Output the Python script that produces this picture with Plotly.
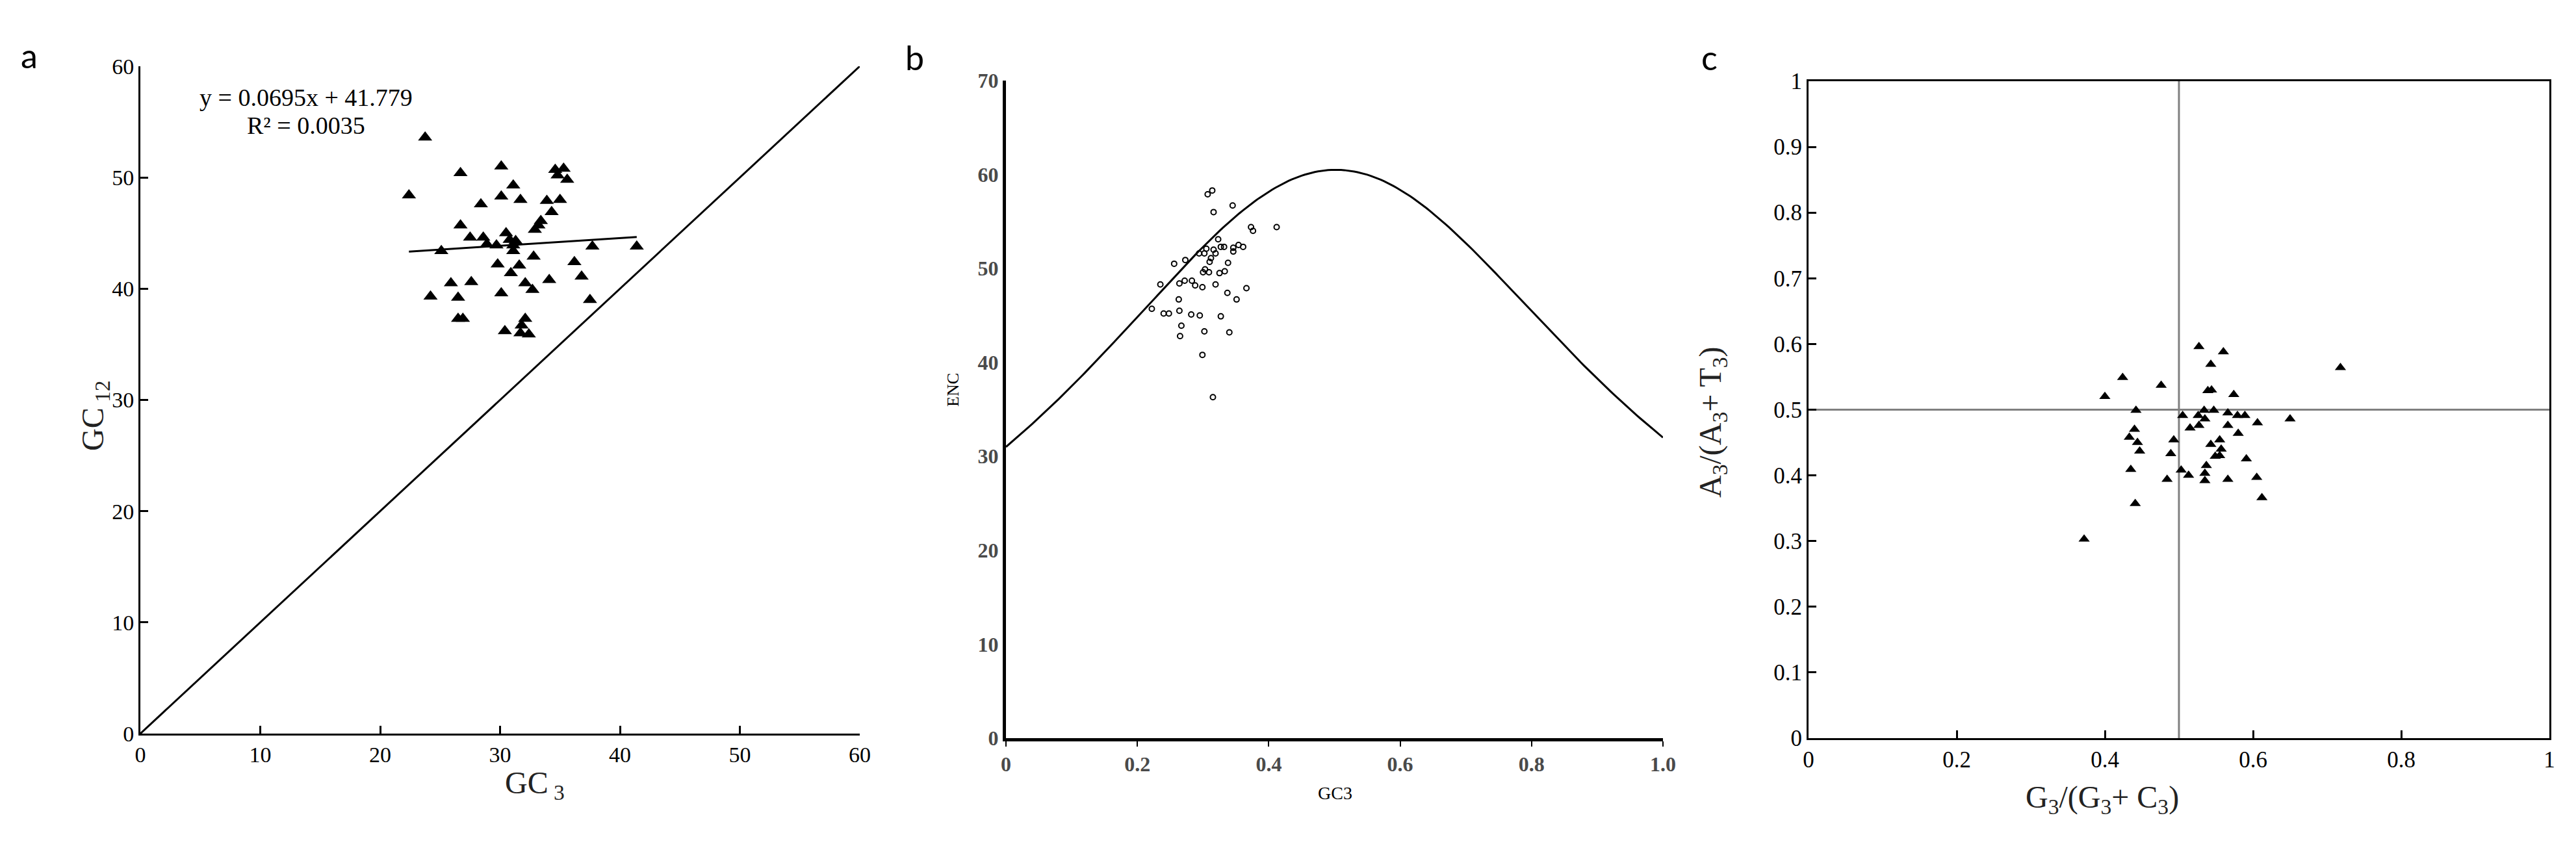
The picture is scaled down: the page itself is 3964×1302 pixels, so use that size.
import numpy as np
import plotly.graph_objects as go

# panel a: GC12 vs GC3 (neutrality plot)
gc3_a = [23.75, 22.4, 26.7, 30.1, 31.1, 30.1, 31.7, 28.4, 34.6, 35.3, 34.8, 35.6,
         33.9, 35.0, 34.3, 33.4, 33.2, 32.9, 26.7, 27.5, 28.6, 28.9, 29.7, 30.5,
         30.8, 31.1, 31.3, 31.1, 25.1, 32.8, 37.7, 41.4, 29.8, 31.6, 36.2, 30.9,
         25.9, 27.6, 32.1, 32.7, 34.1, 36.8, 24.2, 26.5, 30.1, 37.5, 26.5, 26.9,
         32.1, 31.8, 30.4, 31.7, 32.4]
gc12_a = [53.6, 48.4, 50.4, 51.0, 49.3, 48.3, 48.0, 47.6, 50.7, 50.8, 50.2, 49.8,
          47.9, 48.0, 46.9, 46.1, 45.7, 45.3, 45.7, 44.6, 44.6, 44.0, 43.9, 45.0,
          44.4, 43.9, 44.3, 43.4, 43.4, 42.9, 43.8, 43.8, 42.2, 42.1, 42.4, 41.4,
          40.5, 40.6, 40.5, 39.9, 40.8, 41.1, 39.3, 39.2, 39.6, 39.0, 37.3, 37.3,
          37.3, 36.7, 36.2, 36.0, 35.9]
slope_a, intercept_a = 0.0695, 41.779

# panel b: ENC vs GC3
gc3_b = [0.307, 0.314, 0.316, 0.345, 0.373, 0.376, 0.412, 0.323, 0.305, 0.316,
         0.327, 0.332, 0.346, 0.346, 0.354, 0.361, 0.294, 0.302, 0.319, 0.312,
         0.310, 0.338, 0.273, 0.256, 0.303, 0.300, 0.309, 0.325, 0.333, 0.235,
         0.264, 0.272, 0.283, 0.288, 0.299, 0.319, 0.366, 0.337, 0.351, 0.263,
         0.222, 0.240, 0.248, 0.264, 0.282, 0.295, 0.327, 0.267, 0.302, 0.340,
         0.265, 0.299, 0.315]
enc_b = [57.9, 58.3, 56.0, 56.7, 54.4, 54.0, 54.4, 53.1, 52.1, 52.0, 52.3, 52.3,
         52.2, 51.8, 52.5, 52.3, 51.6, 51.6, 51.6, 51.1, 50.7, 50.6, 50.9, 50.5,
         49.9, 49.6, 49.6, 49.5, 49.7, 48.3, 48.4, 48.7, 48.7, 48.2, 48.0, 48.3,
         47.9, 47.4, 46.7, 46.7, 45.7, 45.2, 45.2, 45.5, 45.1, 45.0, 44.9, 43.9,
         43.3, 43.2, 42.8, 40.8, 36.3]
ticks_b = [0, 0.2, 0.4, 0.6, 0.8, 1.0]
ticklabels_b = ["0", "0.2", "0.4", "0.6", "0.8", "1.0"]

# panel c: PR2 bias plot
g3_c = [0.372, 0.718, 0.527, 0.560, 0.543, 0.424, 0.476, 0.400, 0.539, 0.544,
        0.574, 0.442, 0.505, 0.526, 0.534, 0.535, 0.547, 0.566, 0.579, 0.589,
        0.606, 0.650, 0.515, 0.527, 0.566, 0.580, 0.440, 0.433, 0.444, 0.447,
        0.493, 0.543, 0.555, 0.557, 0.549, 0.489, 0.591, 0.537, 0.535, 0.503,
        0.513, 0.535, 0.484, 0.566, 0.605, 0.435, 0.441, 0.612, 0.555]
a3_c = [0.303, 0.564, 0.596, 0.588, 0.569, 0.549, 0.537, 0.520, 0.529, 0.530,
        0.523, 0.499, 0.491, 0.491, 0.499, 0.486, 0.499, 0.495, 0.491, 0.491,
        0.480, 0.486, 0.472, 0.476, 0.476, 0.464, 0.470, 0.458, 0.450, 0.437,
        0.454, 0.447, 0.454, 0.440, 0.429, 0.433, 0.425, 0.415, 0.403, 0.408,
        0.400, 0.392, 0.394, 0.394, 0.397, 0.409, 0.357, 0.366, 0.430]

W, H = 3964, 1302
OFF = 8  # page body margin shifts the figure by this much


def dom_x(p0, p1):
    return [(p0 - OFF) / W, (p1 - OFF) / W]


def dom_y(top, bottom):
    return [1 - (bottom - OFF) / H, 1 - (top - OFF) / H]


def label(text, px, py, size, family, angle=0, color="black"):
    return dict(text=text, x=(px - OFF) / W, y=1 - (py - OFF) / H,
                xref="paper", yref="paper", showarrow=False, textangle=angle,
                font=dict(family=family, size=size, color=color))


serif = "Liberation Serif"

fig = go.Figure()

# ---- a ----
fig.add_trace(go.Scatter(x=[0, 60], y=[0, 60], mode="lines",
                         line=dict(color="black", width=3), xaxis="x", yaxis="y"))
fig.add_trace(go.Scatter(x=gc3_a, y=gc12_a, mode="markers",
                         marker=dict(symbol="triangle-up", size=19, color="black"),
                         xaxis="x", yaxis="y"))
xr = np.array([min(gc3_a), max(gc3_a)])
fig.add_trace(go.Scatter(x=xr, y=slope_a * xr + intercept_a, mode="lines",
                         line=dict(color="black", width=3), xaxis="x", yaxis="y"))

# ---- b ----
s = np.linspace(0, 1, 201)
enc_exp = 2 + s + 29 / (s ** 2 + (1 - s) ** 2)
fig.add_trace(go.Scatter(x=s, y=enc_exp, mode="lines",
                         line=dict(color="black", width=3), xaxis="x2", yaxis="y2"))
fig.add_trace(go.Scatter(x=gc3_b, y=enc_b, mode="markers",
                         marker=dict(symbol="circle-open", size=8, color="black",
                                     line=dict(width=2)),
                         xaxis="x2", yaxis="y2"))

# ---- c ----
fig.add_trace(go.Scatter(x=g3_c, y=a3_c, mode="markers",
                         marker=dict(symbol="triangle-up", size=15, color="black"),
                         xaxis="x3", yaxis="y3"))

tick_a = dict(family=serif, size=34, color="black")
tick_c = dict(family=serif, size=35, color="black")
tick_b = dict(family=serif, size=32, color="#4a4a4a")

common = dict(showgrid=False, zeroline=False, automargin=False,
              linecolor="black", showline=True, tickcolor="black")

fig.update_layout(
    width=W, height=H,
    margin=dict(l=0, r=0, t=0, b=0, autoexpand=False),
    paper_bgcolor="white", plot_bgcolor="white",
    showlegend=False,
    xaxis=dict(domain=dom_x(216, 1323), range=[0, 60], dtick=10, linewidth=3,
               ticks="inside", ticklen=12, tickwidth=3, tickfont=tick_a,
               anchor="y", **common),
    yaxis=dict(domain=dom_y(102, 1129), range=[0, 60], dtick=10, linewidth=3,
               ticks="inside", ticklen=12, tickwidth=3, tickfont=tick_a,
               anchor="x", **common),
    xaxis2=dict(domain=dom_x(1548, 2559), range=[0, 1], tickvals=ticks_b,
                ticktext=["<b>%s</b>" % t for t in ticklabels_b], linewidth=5,
                ticks="outside", ticklen=8, tickwidth=2, tickfont=tick_b,
                anchor="y2", **common),
    yaxis2=dict(domain=dom_y(124, 1136), range=[0, 70], tickvals=list(range(0, 71, 10)),
                ticktext=["<b>%d</b>" % v for v in range(0, 71, 10)], linewidth=5,
                ticks="", tickfont=tick_b, anchor="x2", **common),
    xaxis3=dict(domain=dom_x(2783, 3923), range=[0, 1], dtick=0.2, mirror=True,
                linewidth=3, ticks="inside", ticklen=12, tickwidth=3,
                tickfont=tick_c, anchor="y3", **common),
    yaxis3=dict(domain=dom_y(125, 1136), range=[0, 1], dtick=0.1, mirror=True,
                linewidth=3, ticks="inside", ticklen=12, tickwidth=3,
                tickfont=tick_c, anchor="x3", **common),
    shapes=[
        dict(type="line", xref="x3", yref="y3", x0=0.5, x1=0.5, y0=0, y1=1,
             line=dict(color="#808080", width=3), layer="below"),
        dict(type="line", xref="x3", yref="y3", x0=0, x1=1, y0=0.5, y1=0.5,
             line=dict(color="#808080", width=3), layer="below"),
    ],
    annotations=[
        dict(text="y = 0.0695x + 41.779", x=13.8, y=57.2, xref="x", yref="y",
             showarrow=False, font=dict(family=serif, size=38, color="black")),
        dict(text="R² = 0.0035", x=13.8, y=54.7, xref="x", yref="y",
             showarrow=False, font=dict(family=serif, size=38, color="black")),
        label("a", 30, 52, 52, "Lato"),
        label("b", 1407, 55, 52, "Lato"),
        label("c", 2630, 55, 52, "Lato"),
        # axis titles
        label("GC<sub> 3</sub>", 775, 1240, 48, serif, color="#222"),
        label("GC<sub> 12</sub>", 114, 640, 48, serif, angle=-90, color="#222"),
        label("GC3", 2055, 1238, 28, serif),
        label("ENC", 1466, 600, 26, serif, angle=-90),
        label("G<sub>3</sub>/(G<sub>3</sub>+ C<sub>3</sub>)", 3355, 1262, 48, serif,
              color="#222"),
        label("A<sub>3</sub>/(A<sub>3</sub>+ T<sub>3</sub>)", 2667, 650, 48, serif,
              angle=-90, color="#222"),
    ],
)

fig.write_html("out.html")
